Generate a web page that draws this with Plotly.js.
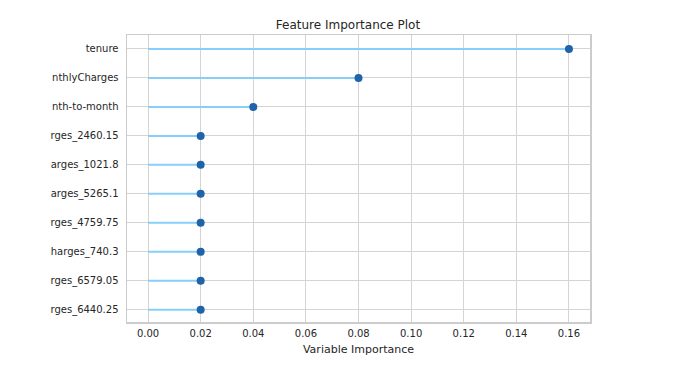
<!DOCTYPE html>
<html>
<head>
<meta charset="utf-8">
<script src="https://cdn.plot.ly/plotly-3.0.1.min.js"></script>
<style>html,body{margin:0;padding:0;background:#fff;}#chart{width:696px;height:376px;}</style>
</head>
<body>
<div id="chart"></div>
<script>
// Feature labels as visible in the reference (left part is cut off there)
const features = [
  "tenure",
  "nthlyCharges",
  "nth-to-month",
  "rges_2460.15",
  "arges_1021.8",
  "arges_5265.1",
  "rges_4759.75",
  "harges_740.3",
  "rges_6579.05",
  "rges_6440.25"
];
const importance = [0.16, 0.08, 0.04, 0.02, 0.02, 0.02, 0.02, 0.02, 0.02, 0.02];
const xTicks = [0, 0.02, 0.04, 0.06, 0.08, 0.10, 0.12, 0.14, 0.16];

const stemX = [], stemY = [];
features.forEach((f, i) => { stemX.push(0, importance[i], null); stemY.push(f, f, null); });

const traces = [
  {type: 'scatter', mode: 'lines', x: stemX, y: stemY,
   line: {color: '#87cefa', width: 2}, hoverinfo: 'skip', showlegend: false},
  {type: 'scatter', mode: 'markers', x: importance, y: features,
   marker: {color: '#1f63a8', size: 8}, showlegend: false}
];

const font = {family: 'DejaVu Sans, sans-serif', size: 10, color: '#262626'};
const layout = {
  width: 696, height: 376,
  margin: {l: 127, r: 106, t: 35, b: 54},
  paper_bgcolor: '#fff', plot_bgcolor: '#fff',
  font: font,
  title: {text: 'Feature Importance Plot', font: {family: 'DejaVu Sans, sans-serif', size: 12, color: '#262626'},
          x: 0.5, xanchor: 'center', y: 1 - 25/376, yanchor: 'middle'},
  xaxis: {
    range: [-0.008, 0.168], tickvals: xTicks, tickformat: '.2f',
    showgrid: true, gridcolor: '#d4d4d4', gridwidth: 1, zeroline: false,
    showline: true, mirror: true, linecolor: '#cccccc', linewidth: 1.5,
    ticks: '', ticklabelstandoff: 1,
    title: {text: 'Variable Importance', font: {family: 'DejaVu Sans, sans-serif', size: 11, color: '#262626'}, standoff: 8}
  },
  yaxis: {
    type: 'category', categoryorder: 'array', categoryarray: features,
    range: [9.42, -0.48],
    showgrid: true, gridcolor: '#d4d4d4', gridwidth: 1, zeroline: false,
    showline: true, mirror: true, linecolor: '#cccccc', linewidth: 1.5,
    ticks: '', ticklabelstandoff: 5
  }
};
Plotly.newPlot('chart', traces, layout, {displayModeBar: false, staticPlot: true});
</script>
</body>
</html>
